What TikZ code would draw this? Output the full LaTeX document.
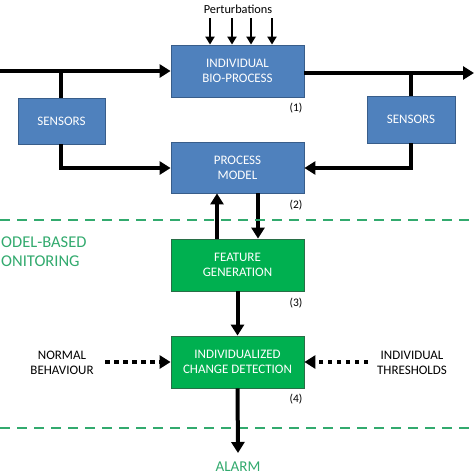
\documentclass[tikz,border=0pt]{standalone}
\usepackage{fontspec}
\setmainfont{Carlito}
\usetikzlibrary{arrows.meta}
\definecolor{bfill}{RGB}{79,129,189}
\definecolor{bdraw}{RGB}{56,93,138}
\definecolor{gfill}{RGB}{0,176,80}
\definecolor{gdraw}{RGB}{40,110,70}
\definecolor{dgreen}{RGB}{50,170,110}
\begin{document}
\begin{tikzpicture}[x=1pt,y=-1pt,
  bluebox/.style={draw=bdraw,line width=0.8pt,fill=bfill,text=white,align=center,font=\fontsize{13}{15}\selectfont,inner sep=0pt},
  greenbox/.style={draw=gdraw,line width=0.8pt,fill=gfill,text=white,align=center,font=\fontsize{13}{15}\selectfont,inner sep=0pt},
  flow/.style={line width=4pt,-{Triangle[length=11pt,width=13pt]}},
  plain/.style={line width=4pt},
  dotflow/.style={line width=4.5pt,dash pattern=on 4.5pt off 4.5pt,-{Triangle[length=11pt,width=13pt]}},
  sep/.style={draw=dgreen,line width=1.5pt,dash pattern=on 10pt off 7pt},
  lbl/.style={font=\fontsize{11.5}{13}\selectfont,inner sep=0pt},
  side/.style={font=\fontsize{13}{15}\selectfont,align=center,inner sep=0pt},
  grn/.style={text=dgreen,inner sep=0pt}
]
\useasboundingbox (0,0) rectangle (474,474);
\fill[white] (0,0) rectangle (474,474);

% boxes
\node[bluebox,minimum width=133pt,minimum height=52pt] (bio) at (237.5,71) {INDIVIDUAL\\BIO-PROCESS};
\node[bluebox,minimum width=87pt,minimum height=46pt] (sl) at (61.5,121) {SENSORS};
\node[bluebox,minimum width=88pt,minimum height=47pt] (sr) at (411,119.5) {SENSORS};
\node[bluebox,minimum width=133pt,minimum height=51pt] (pm) at (237.5,167.5) {PROCESS\\MODEL};
\node[greenbox,minimum width=133pt,minimum height=52pt] (fg) at (237.5,265) {FEATURE\\GENERATION};
\node[greenbox,minimum width=133pt,minimum height=52pt] (cd) at (237.5,362) {INDIVIDUALIZED\\CHANGE DETECTION};

% labels
\node[lbl] (l1) at (296,108) {(1)};
\node[lbl] (l2) at (296,205) {(2)};
\node[lbl] (l3) at (296,303) {(3)};
\node[lbl] (l4) at (296,399) {(4)};

% perturbations
\node[lbl,font=\fontsize{12.3}{14}\selectfont] (pert) at (238,9) {Perturbations};
\foreach \px/\nm in {210/pa,232/pb,251/pc,272/pd}{
  \coordinate (\nm) at (\px,18);
  \draw[line width=2.2pt,-{Triangle[length=8pt,width=9pt]}] (\nm) -- (\nm |- bio.north);
}

% main line
\coordinate (inL) at (0,71);
\coordinate (outR) at (474,73);
\draw[flow] (inL) -- (bio.west |- inL);
\draw[flow] (bio.east |- outR) -- (outR);

% sensors
\coordinate (jl) at (61,71);
\coordinate (jr) at (411,73);
\coordinate (cl) at (61,168);
\coordinate (cr) at (411,168);
\draw[plain] (jl) -- (jl |- sl.north);
\draw[plain] (jr) -- (jr |- sr.north);
\draw[flow] (cl |- sl.south) -- (cl) -- (pm.west |- cl);
\draw[flow] (cr |- sr.south) -- (cr) -- (pm.east |- cr);

% model <-> feature
\coordinate (up) at (217,0);
\coordinate (dn) at (258,0);
\draw[flow] (up |- fg.north) -- (up |- pm.south);
\draw[flow] (dn |- pm.south) -- (dn |- fg.north);
\draw[flow] (fg.south) -- (cd.north);

% separators
\coordinate (s1a) at (0,220); \coordinate (s1b) at (474,220);
\coordinate (s2a) at (0,428); \coordinate (s2b) at (474,428);
\draw[sep] (s1a) -- (s1b);
\draw[sep] (s2a) -- (s2b);

% monitoring label
\node[grn,anchor=west,font=\fontsize{16.5}{18.5}\selectfont,align=left] (mbm) at (1,251.5) {ODEL-BASED\\ONITORING};

% side inputs
\node[side] (nb) at (62,362.5) {NORMAL\\BEHAVIOUR};
\node[side] (it) at (412,362.5) {INDIVIDUAL\\THRESHOLDS};
\coordinate (dl) at (105,362);
\coordinate (dr) at (368,362);
\draw[dotflow] (dl) -- (cd.west |- dl);
\draw[dotflow] (dr) -- (cd.east |- dr);

% alarm
\node[grn,font=\fontsize{15}{17}\selectfont,anchor=base] (alarm) at (238,471.5) {ALARM};
\coordinate (alarmtip) at (238,453);
\draw[flow] (cd.south) -- (alarmtip);
\end{tikzpicture}
\end{document}
